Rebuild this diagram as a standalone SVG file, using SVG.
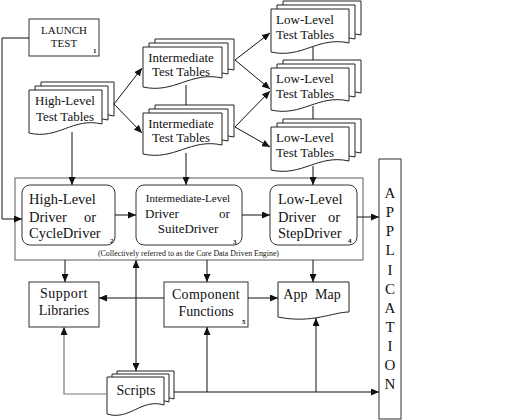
<svg xmlns="http://www.w3.org/2000/svg" width="515" height="420" viewBox="0 0 515 420" font-family="'Liberation Serif', 'DejaVu Serif', serif">
<style>
text{font-family:'Liberation Serif','DejaVu Serif',serif;fill:#111}
.doc{fill:#fff;stroke:#222;stroke-width:1}
.box{fill:#fff;stroke:#333;stroke-width:1}
.ln{fill:none;stroke:#111;stroke-width:1}
.gl{fill:none;stroke:#777;stroke-width:1.2}
.t13{font-size:13px}
.t14{font-size:14px}
.t145{font-size:14.5px}
.num{font-size:7px;font-weight:bold}
.app{font-size:15px}
</style>
<defs>
<marker id="ah" markerUnits="userSpaceOnUse" markerWidth="8" markerHeight="7" refX="8" refY="3.5" orient="auto-start-reverse">
<path d="M0,0 L8,3.5 L0,7 Z" fill="#111"/>
</marker>
</defs>
<rect width="515" height="420" fill="#fff"/>

<g id="engine"><rect x="15" y="178" width="348" height="82" fill="#fff" stroke="#777" stroke-width="1.2"/>
<text x="98" y="256" font-size="7.5" textLength="181" lengthAdjust="spacingAndGlyphs">(Collectively referred to as the Core Data Driven Engine)</text></g>

<g id="launch"><rect class="box" x="29" y="19" width="70" height="37"/>
<text x="64" y="34" font-size="11" text-anchor="middle">LAUNCH</text>
<text x="64" y="47" font-size="11" text-anchor="middle">TEST</text>
<text class="num" x="93" y="53">1</text></g>

<g id="hl-tables">
<path class="doc" d="M41,82 H114 V116 C84.8,109 70.2,132 41,125 Z"/>
<path class="doc" d="M35,86 H108 V120 C78.8,113 64.2,136 35,129 Z"/>
<path class="doc" d="M29,90 H102 V124 C72.8,117 58.2,140 29,133 Z"/>
<text class="t13" x="65" y="104.5" text-anchor="middle">High-Level</text>
<text class="t13" x="65" y="120.5" text-anchor="middle">Test Tables</text></g>

<g id="int-tables-1">
<path class="doc" d="M155,39 H234 V70 C202.4,63 186.6,86 155,79 Z"/>
<path class="doc" d="M149,43 H228 V74 C196.4,67 180.6,90 149,83 Z"/>
<path class="doc" d="M143,47 H222 V78 C190.4,71 174.6,94 143,87 Z"/>
<text class="t13" x="181" y="61.5" text-anchor="middle">Intermediate</text>
<text class="t13" x="181" y="75.5" text-anchor="middle">Test Tables</text></g>

<g id="int-tables-2">
<path class="doc" d="M155,105 H234 V137 C202.4,130 186.6,153 155,146 Z"/>
<path class="doc" d="M149,109 H228 V141 C196.4,134 180.6,157 149,150 Z"/>
<path class="doc" d="M143,113 H222 V145 C190.4,138 174.6,161 143,154 Z"/>
<text class="t13" x="181" y="127.5" text-anchor="middle">Intermediate</text>
<text class="t13" x="181" y="142" text-anchor="middle">Test Tables</text></g>

<g id="low-tables-1">
<path class="doc" d="M283,1 H361 V35 C329.8,28 314.2,51 283,44 Z"/>
<path class="doc" d="M277,5 H355 V39 C323.8,32 308.2,55 277,48 Z"/>
<path class="doc" d="M271,9 H349 V43 C317.8,36 302.2,59 271,52 Z"/>
<text class="t13" x="305" y="23.5" text-anchor="middle">Low-Level</text>
<text class="t13" x="305" y="38.5" text-anchor="middle">Test Tables</text></g>

<g id="low-tables-2">
<path class="doc" d="M283,60 H361 V93 C329.8,86 314.2,109 283,102 Z"/>
<path class="doc" d="M277,64 H355 V97 C323.8,90 308.2,113 277,106 Z"/>
<path class="doc" d="M271,68 H349 V101 C317.8,94 302.2,117 271,110 Z"/>
<text class="t13" x="305" y="83" text-anchor="middle">Low-Level</text>
<text class="t13" x="305" y="98" text-anchor="middle">Test Tables</text></g>

<g id="low-tables-3">
<path class="doc" d="M283,119 H361 V153 C329.8,146 314.2,169 283,162 Z"/>
<path class="doc" d="M277,123 H355 V157 C323.8,150 308.2,173 277,166 Z"/>
<path class="doc" d="M271,127 H349 V161 C317.8,154 302.2,177 271,170 Z"/>
<text class="t13" x="305" y="142" text-anchor="middle">Low-Level</text>
<text class="t13" x="305" y="157" text-anchor="middle">Test Tables</text></g>

<g id="hl-driver"><rect class="box" x="22" y="185" width="93" height="60" rx="8" stroke="#222"/>
<text class="t145" x="29" y="204">High-Level</text>
<text class="t145" y="222"><tspan x="29">Driver</tspan><tspan x="84">or</tspan></text>
<text class="t145" x="29" y="238">CycleDriver</text>
<text class="num" x="110" y="243">2</text></g>

<g id="int-driver"><rect class="box" x="136" y="185" width="106" height="60" rx="8" stroke="#222"/>
<text x="188" y="202" font-size="11" text-anchor="middle">Intermediate-Level</text>
<text class="t13" y="218"><tspan x="145">Driver</tspan><tspan x="219">or</tspan></text>
<text class="t13" x="188" y="233" text-anchor="middle">SuiteDriver</text>
<text class="num" x="233" y="244">3</text></g>

<g id="low-driver"><rect class="box" x="270" y="185" width="87" height="60" rx="8" stroke="#222"/>
<text class="t145" x="278" y="204">Low-Level</text>
<text class="t145" y="222"><tspan x="278">Driver</tspan><tspan x="328">or</tspan></text>
<text class="t145" x="278" y="238">StepDriver</text>
<text class="num" x="348" y="243">4</text></g>

<g id="application"><rect class="box" x="379" y="159" width="22" height="260"/>
<text class="app" x="390" text-anchor="middle"><tspan x="390" y="198">A</tspan><tspan x="390" y="217">P</tspan><tspan x="390" y="236">P</tspan><tspan x="390" y="255">L</tspan><tspan x="390" y="275">I</tspan><tspan x="390" y="294">C</tspan><tspan x="390" y="313">A</tspan><tspan x="390" y="332">T</tspan><tspan x="390" y="351">I</tspan><tspan x="390" y="370">O</tspan><tspan x="390" y="389">N</tspan></text></g>

<g id="support"><rect class="box" x="29" y="282" width="70" height="45"/>
<text class="t14" x="64" y="298" text-anchor="middle" letter-spacing="0.5">Support</text>
<text class="t14" x="64" y="315" text-anchor="middle">Libraries</text></g>

<g id="component"><rect class="box" x="164" y="282" width="84" height="45"/>
<text class="t14" x="206" y="299" text-anchor="middle" letter-spacing="0.3">Component</text>
<text class="t14" x="206" y="316" text-anchor="middle">Functions</text>
<text class="num" x="242" y="324">5</text></g>

<g id="appmap"><path class="doc" d="M278,282 H349 V312 C333,312 312,324 278,317 Z"/>
<text class="t14" x="312" y="299" text-anchor="middle" word-spacing="4">App Map</text></g>

<g id="scripts">
<path class="doc" d="M117,371 H174 V399 C151.2,392 139.8,415 117,408 Z"/>
<path class="doc" d="M112,374 H169 V402 C146.2,395 134.8,418 112,411 Z"/>
<path class="doc" d="M107,377 H164 V405 C141.2,398 129.8,421 107,414 Z"/>
<text class="t14" x="136" y="395" text-anchor="middle">Scripts</text></g>

<g id="connectors">
<path class="ln" d="M29,38 H2 V219 H22" marker-end="url(#ah)"/>
<path class="ln" d="M72,132 V185" marker-end="url(#ah)"/>
<path class="ln" d="M114,104 L142,68" marker-end="url(#ah)"/>
<path class="ln" d="M114,104 L142,133" marker-end="url(#ah)"/>
<path class="ln" d="M186,85 V105"/>
<path class="ln" d="M186,153 V185" marker-end="url(#ah)"/>
<path class="ln" d="M235,60 L270,33" marker-end="url(#ah)"/>
<path class="ln" d="M235,60 L270,89" marker-end="url(#ah)"/>
<path class="ln" d="M235,127 L270,91" marker-end="url(#ah)"/>
<path class="ln" d="M235,127 L270,147" marker-end="url(#ah)"/>
<path class="ln" d="M313,47 V60"/>
<path class="ln" d="M313,106 V119"/>
<path class="ln" d="M313,166 V185" marker-end="url(#ah)"/>
<path class="ln" d="M115,215 H136" marker-end="url(#ah)"/>
<path class="ln" d="M242,215 H270" marker-end="url(#ah)"/>
<path class="ln" d="M357,217 H379" marker-end="url(#ah)"/>
<path class="ln" d="M65,260 V282" marker-end="url(#ah)"/>
<path class="ln" d="M207,260 V282" marker-end="url(#ah)"/>
<path class="ln" d="M313,260 V282" marker-end="url(#ah)"/>
<path class="ln" d="M136,260 V371" marker-start="url(#ah)" marker-end="url(#ah)"/>
<path class="ln" d="M164,298 H99" marker-end="url(#ah)"/>
<path class="ln" d="M248,298 H278" marker-end="url(#ah)"/>
<path class="gl" d="M107,394 H64 V327" marker-end="url(#ah)"/>
<path class="ln" d="M174,392 H379" marker-end="url(#ah)"/>
<path class="ln" d="M207,392 V327" marker-end="url(#ah)"/>
<path class="ln" d="M316,392 V318" marker-end="url(#ah)"/>
</g>
</svg>
